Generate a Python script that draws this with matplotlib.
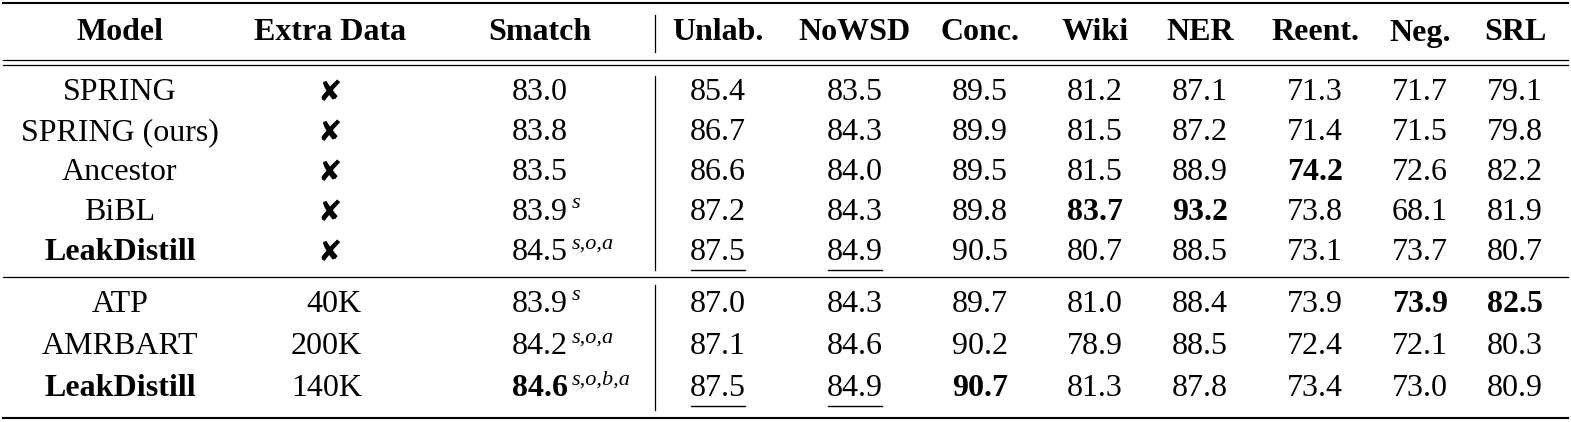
import matplotlib.pyplot as plt

plt.rcParams['font.family'] = ['Liberation Serif', 'DejaVu Sans']

headers = ['Model', 'Extra Data', 'Smatch', 'Unlab.', 'NoWSD', 'Conc.', 'Wiki',
           'NER', 'Reent.', 'Neg.', 'SRL']
models = ['SPRING', 'SPRING (ours)', 'Ancestor', 'BiBL', 'LeakDistill',
          'ATP', 'AMRBART', 'LeakDistill']
extra = ['\u2718', '\u2718', '\u2718', '\u2718', '\u2718', '40K', '200K', '140K']
smatch = [83.0, 83.8, 83.5, 83.9, 84.5, 83.9, 84.2, 84.6]
smatch_sup = ['', '', '', 's', 's,o,a', 's', 's,o,a', 's,o,b,a']
scores = [
    [85.4, 83.5, 89.5, 81.2, 87.1, 71.3, 71.7, 79.1],
    [86.7, 84.3, 89.9, 81.5, 87.2, 71.4, 71.5, 79.8],
    [86.6, 84.0, 89.5, 81.5, 88.9, 74.2, 72.6, 82.2],
    [87.2, 84.3, 89.8, 83.7, 93.2, 73.8, 68.1, 81.9],
    [87.5, 84.9, 90.5, 80.7, 88.5, 73.1, 73.7, 80.7],
    [87.0, 84.3, 89.7, 81.0, 88.4, 73.9, 73.9, 82.5],
    [87.1, 84.6, 90.2, 78.9, 88.5, 72.4, 72.1, 80.3],
    [87.5, 84.9, 90.7, 81.3, 87.8, 73.4, 73.0, 80.9],
]
bold_cells = {(2, 5), (3, 3), (3, 4), (5, 6), (5, 7), (7, 2)}
underline_cells = {(4, 0), (4, 1), (7, 0), (7, 1)}
bold_models = {4, 7}
bold_smatch = {7}

col_x = [120, 330, 540, 718, 855, 980, 1095, 1200, 1315, 1420, 1515]
row_y = [93, 133, 173, 213, 253, 305, 347, 389]
fs = 23

fig = plt.figure(figsize=(15.71, 4.22), dpi=100)
ax = fig.add_axes([0, 0, 1, 1])
ax.set_xlim(0, 1571)
ax.set_ylim(422, 0)
ax.axis('off')

for x, h in zip(col_x, headers):
    ax.text(x, 33, h, ha='center', va='center', fontsize=fs, fontweight='bold')

for i, y in enumerate(row_y):
    ax.text(col_x[0], y, models[i], ha='center', va='center', fontsize=fs,
            fontweight='bold' if i in bold_models else 'normal')
    if extra[i] == '\u2718':
        ax.text(col_x[1], y, extra[i], ha='center', va='center', fontsize=21,
                family='DejaVu Sans')
    else:
        ax.text(362, y, extra[i], ha='right', va='center', fontsize=fs)
    ax.text(col_x[2], y, f'{smatch[i]:.1f}', ha='center', va='center', fontsize=fs,
            fontweight='bold' if i in bold_smatch else 'normal')
    if smatch_sup[i]:
        ax.text(col_x[2] + 32, y - 9, smatch_sup[i], ha='left', va='center',
                fontsize=16, style='italic')
    for j, v in enumerate(scores[i]):
        x = col_x[3 + j]
        ax.text(x, y, f'{v:.1f}', ha='center', va='center', fontsize=fs,
                fontweight='bold' if (i, j) in bold_cells else 'normal')
        if (i, j) in underline_cells:
            ax.plot([x - 27, x + 27], [y + 17, y + 17], color='black', lw=1)

# rules
ax.plot([3, 1568], [3, 3], color='black', lw=1.5)
ax.plot([3, 1568], [60, 60], color='black', lw=0.9)
ax.plot([3, 1568], [65, 65], color='black', lw=0.9)
ax.plot([3, 1568], [277, 277], color='black', lw=0.9)
ax.plot([3, 1568], [418, 418], color='black', lw=1.5)
for y0, y1 in [(15, 52), (76, 270), (285, 410)]:
    ax.plot([655, 655], [y0, y1], color='black', lw=0.9)

fig.savefig('out.png', dpi=100)
